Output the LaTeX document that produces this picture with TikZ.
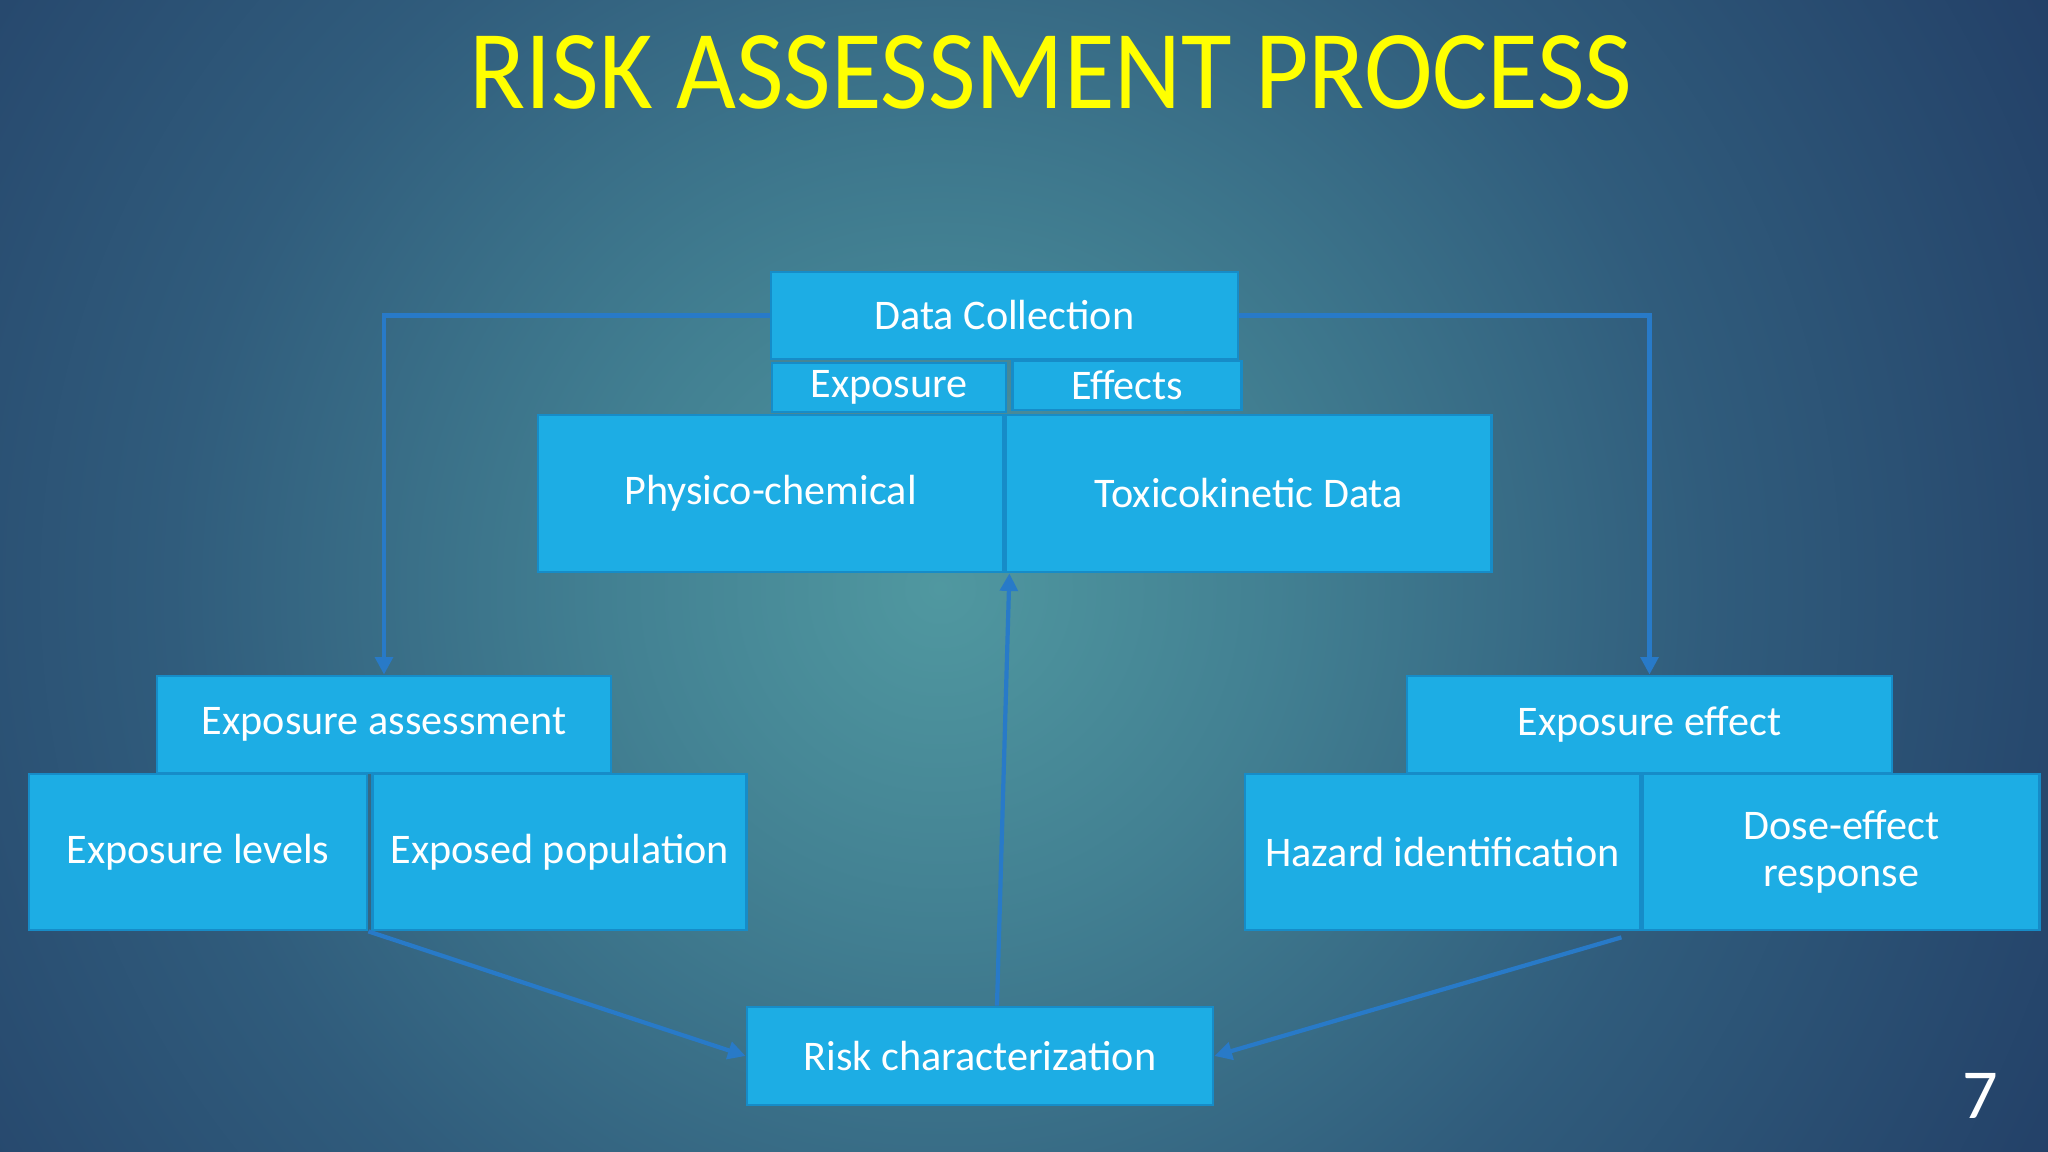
\documentclass[tikz,border=0pt]{standalone}
\usepackage{fontspec}
\setmainfont{Carlito}
\newfontfamily\titlefont[FakeStretch=0.92]{Carlito}
\usepackage{xcolor}
\usepackage{tikz}
\usetikzlibrary{positioning,arrows.meta}

\definecolor{boxfill}{RGB}{29,173,228}
\definecolor{boxline}{RGB}{22,140,200}
\definecolor{linkblue}{RGB}{40,122,200}
\definecolor{titleyellow}{RGB}{255,255,0}
\definecolor{glowA}{RGB}{80,152,160}
\definecolor{glowB}{RGB}{66,128,146}
\definecolor{glowC}{RGB}{48,92,124}
\definecolor{glowD}{RGB}{34,62,102}
\definecolor{glowE}{RGB}{29,51,92}
\pgfdeclareradialshading{slideglow}{\pgfpoint{0bp}{0bp}}{color(0bp)=(glowA); color(7bp)=(glowB); color(16bp)=(glowC); color(27bp)=(glowD); color(38bp)=(glowE); color(72bp)=(glowE)}

\begin{document}
\begin{tikzpicture}[node distance=0cm,
  box/.style={draw=boxline,line width=0.8pt,fill=boxfill,text=white,inner sep=0pt,align=center,font=\fontsize{12}{13.5}\selectfont},
  flow/.style={draw=linkblue,line width=1.2pt,-{Triangle[length=5pt,width=5pt]}}]
  \useasboundingbox (0,0) rectangle (20.48,11.52);
  \clip (0,0) rectangle (20.48,11.52);
  \shade[shading=slideglow] (-2.6,-6.36) rectangle (21.4,17.64);
  \node (1) [box,minimum width=4.67cm,minimum height=0.87cm] at (10.045,8.365) {Data Collection};
  \node (2) [box,minimum width=2.34cm,minimum height=0.49cm] at (8.89,7.645) {Exposure};
  \node (3) [box,minimum width=2.29cm,minimum height=0.49cm,right=0.04cm of 2,yshift=0.02cm] {Effects};
  \node (4) [box,minimum width=4.65cm,minimum height=1.57cm] at (7.705,6.585) {Physico-chemical};
  \node (5) [box,minimum width=4.86cm,minimum height=1.57cm,right=of 4] {Toxicokinetic Data};
  \node (6) [box,minimum width=4.54cm,minimum height=0.97cm] at (3.84,4.275) {Exposure assessment};
  \node (7) [box,minimum width=3.38cm,minimum height=1.56cm] at (1.98,3.0) {Exposure levels};
  \node (8) [box,minimum width=3.74cm,minimum height=1.56cm,right=0.03cm of 7] {Exposed population};
  \node (9) [box,minimum width=4.85cm,minimum height=0.97cm] at (16.495,4.275) {Exposure effect};
  \node (10) [box,minimum width=3.95cm,minimum height=1.56cm] at (14.425,3.0) {Hazard identification};
  \node (11) [box,minimum width=3.97cm,minimum height=1.56cm,right=of 10] {Dose-effect\\response};
  \node (12) [box,minimum width=4.66cm,minimum height=0.98cm] at (9.8,0.96) {Risk characterization};
  \node (13) [font=\titlefont\fontsize{32}{36}\selectfont,text=titleyellow,anchor=base] at (10.51,10.43) {RISK ASSESSMENT PROCESS};
  \node (14) [font=\fontsize{20}{24}\selectfont,text=white,anchor=base] at (19.80,0.33) {7};
  \draw[flow] (1.west) -| (6.north);
  \draw[flow] (1.east) -| (9.north);
  \draw[flow] ([xshift=0.17cm]12.north) -- ([xshift=0.05cm]5.south west);
  \draw[flow] (7.south east) -- (12.west);
  \draw[flow] ([xshift=-0.2cm,yshift=-0.06cm]10.south east) -- (12.east);
\end{tikzpicture}
\end{document}
